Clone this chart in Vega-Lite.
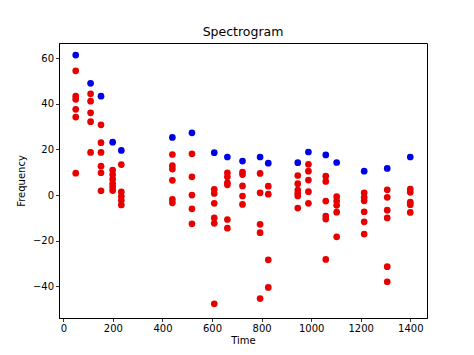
{
  "$schema": "https://vega.github.io/schema/vega-lite/v6.json",
  "width": 368,
  "height": 275,
  "autosize": {"type": "none"},
  "padding": {"left": 59, "top": 43, "right": 47, "bottom": 37},
  "background": "white",
  "title": {"text": "Spectrogram", "font": "DejaVu Sans", "fontSize": 12.5, "fontWeight": "normal", "color": "black", "offset": 5, "anchor": "middle"},
  "config": {
    "view": {"stroke": "black", "strokeWidth": 1},
    "axis": {
      "grid": false,
      "domainColor": "black",
      "domainWidth": 1,
      "tickColor": "black",
      "tickSize": 3.5,
      "tickWidth": 0.8,
      "labelFont": "DejaVu Sans",
      "labelFontSize": 10,
      "labelColor": "black",
      "titleFont": "DejaVu Sans",
      "titleFontSize": 10,
      "titleFontWeight": "normal",
      "titleColor": "black"
    }
  },
  "data": {
    "values": [
      {"t": 50, "f": 61.4, "k": "p"}, {"t": 50, "f": 54.5, "k": "o"}, {"t": 50, "f": 43.4, "k": "o"}, {"t": 50, "f": 42, "k": "o"}, {"t": 50, "f": 37.6, "k": "o"}, {"t": 50, "f": 34.2, "k": "o"}, {"t": 50, "f": 9.6, "k": "o"},
      {"t": 110, "f": 49, "k": "p"}, {"t": 110, "f": 44.4, "k": "o"}, {"t": 110, "f": 41.2, "k": "o"}, {"t": 110, "f": 36.1, "k": "o"}, {"t": 110, "f": 32.2, "k": "o"}, {"t": 110, "f": 18.7, "k": "o"},
      {"t": 152, "f": 43.4, "k": "p"}, {"t": 152, "f": 30.8, "k": "o"}, {"t": 152, "f": 23, "k": "o"}, {"t": 152, "f": 18.7, "k": "o"}, {"t": 152, "f": 12.7, "k": "o"}, {"t": 152, "f": 9.8, "k": "o"}, {"t": 152, "f": 1.9, "k": "o"},
      {"t": 199, "f": 23.2, "k": "p"}, {"t": 199, "f": 11, "k": "o"}, {"t": 199, "f": 9, "k": "o"}, {"t": 199, "f": 7, "k": "o"}, {"t": 199, "f": 5, "k": "o"}, {"t": 199, "f": 3.5, "k": "o"}, {"t": 199, "f": 2, "k": "o"},
      {"t": 234, "f": 19.6, "k": "p"}, {"t": 234, "f": 13.4, "k": "o"}, {"t": 234, "f": 1.4, "k": "o"}, {"t": 234, "f": -0.5, "k": "o"}, {"t": 234, "f": -2.3, "k": "o"}, {"t": 234, "f": -4.3, "k": "o"},
      {"t": 440, "f": 25.3, "k": "p"}, {"t": 440, "f": 17.8, "k": "o"}, {"t": 440, "f": 12.9, "k": "o"}, {"t": 440, "f": 11.4, "k": "o"}, {"t": 440, "f": 6.5, "k": "o"}, {"t": 440, "f": -1.9, "k": "o"}, {"t": 440, "f": -3.4, "k": "o"},
      {"t": 519, "f": 27.3, "k": "p"}, {"t": 519, "f": 18.1, "k": "o"}, {"t": 519, "f": 8, "k": "o"}, {"t": 519, "f": 0, "k": "o"}, {"t": 519, "f": -6, "k": "o"}, {"t": 519, "f": -12.6, "k": "o"},
      {"t": 609, "f": 18.6, "k": "p"}, {"t": 609, "f": 2.5, "k": "o"}, {"t": 609, "f": 0.7, "k": "o"}, {"t": 609, "f": -3.6, "k": "o"}, {"t": 609, "f": -10, "k": "o"}, {"t": 609, "f": -12.4, "k": "o"}, {"t": 609, "f": -47.7, "k": "o"},
      {"t": 662, "f": 16.7, "k": "p"}, {"t": 662, "f": 9.8, "k": "o"}, {"t": 662, "f": 8, "k": "o"}, {"t": 662, "f": 5.4, "k": "o"}, {"t": 662, "f": 4.5, "k": "o"}, {"t": 662, "f": -10.7, "k": "o"}, {"t": 662, "f": -14.5, "k": "o"},
      {"t": 723, "f": 14.9, "k": "p"}, {"t": 723, "f": 10.1, "k": "o"}, {"t": 723, "f": 9, "k": "o"}, {"t": 723, "f": 4, "k": "o"}, {"t": 723, "f": -0.4, "k": "o"}, {"t": 723, "f": -4.1, "k": "o"},
      {"t": 794, "f": 16.7, "k": "p"}, {"t": 794, "f": 9.5, "k": "o"}, {"t": 794, "f": 1, "k": "o"}, {"t": 794, "f": -12.8, "k": "o"}, {"t": 794, "f": -16.5, "k": "o"}, {"t": 794, "f": -45.4, "k": "o"},
      {"t": 827, "f": 14, "k": "p"}, {"t": 827, "f": 3.9, "k": "o"}, {"t": 827, "f": 0.4, "k": "o"}, {"t": 827, "f": -28.4, "k": "o"}, {"t": 827, "f": -40.5, "k": "o"},
      {"t": 946, "f": 14.2, "k": "p"}, {"t": 946, "f": 8.6, "k": "o"}, {"t": 946, "f": 5, "k": "o"}, {"t": 946, "f": 2.2, "k": "o"}, {"t": 946, "f": 0.8, "k": "o"}, {"t": 946, "f": -0.4, "k": "o"}, {"t": 946, "f": -5.7, "k": "o"},
      {"t": 989, "f": 18.9, "k": "p"}, {"t": 989, "f": 13.5, "k": "o"}, {"t": 989, "f": 10.5, "k": "o"}, {"t": 989, "f": 6.6, "k": "o"}, {"t": 989, "f": 1.5, "k": "o"}, {"t": 989, "f": -3.6, "k": "o"},
      {"t": 1059, "f": 17.6, "k": "p"}, {"t": 1059, "f": 8.3, "k": "o"}, {"t": 1059, "f": 6, "k": "o"}, {"t": 1059, "f": -2.6, "k": "o"}, {"t": 1059, "f": -9.2, "k": "o"}, {"t": 1059, "f": -10.5, "k": "o"}, {"t": 1059, "f": -28.2, "k": "o"},
      {"t": 1103, "f": 14.3, "k": "p"}, {"t": 1103, "f": -0.7, "k": "o"}, {"t": 1103, "f": -2.6, "k": "o"}, {"t": 1103, "f": -4.5, "k": "o"}, {"t": 1103, "f": -7.5, "k": "o"}, {"t": 1103, "f": -18.3, "k": "o"},
      {"t": 1214, "f": 10.5, "k": "p"}, {"t": 1214, "f": 1, "k": "o"}, {"t": 1214, "f": -1, "k": "o"}, {"t": 1214, "f": -2.5, "k": "o"}, {"t": 1214, "f": -7.3, "k": "o"}, {"t": 1214, "f": -11.7, "k": "o"}, {"t": 1214, "f": -17.1, "k": "o"},
      {"t": 1307, "f": 11.7, "k": "p"}, {"t": 1307, "f": 2.3, "k": "o"}, {"t": 1307, "f": -1, "k": "o"}, {"t": 1307, "f": -6.6, "k": "o"}, {"t": 1307, "f": -10, "k": "o"}, {"t": 1307, "f": -31.4, "k": "o"}, {"t": 1307, "f": -38, "k": "o"},
      {"t": 1400, "f": 16.7, "k": "p"}, {"t": 1400, "f": 2.6, "k": "o"}, {"t": 1400, "f": 1.2, "k": "o"}, {"t": 1400, "f": -3.1, "k": "o"}, {"t": 1400, "f": -4.2, "k": "o"}, {"t": 1400, "f": -7.6, "k": "o"}
    ]
  },
  "mark": {"type": "point", "filled": true, "opacity": 1, "size": 45},
  "encoding": {
    "x": {
      "field": "t", "type": "quantitative", "title": "Time",
      "scale": {"domain": [-17.5, 1467.5], "nice": false, "zero": false},
      "axis": {"values": [0, 200, 400, 600, 800, 1000, 1200, 1400], "format": "d", "labelPadding": 2, "titlePadding": 2, "labelFlush": false}
    },
    "y": {
      "field": "f", "type": "quantitative", "title": "Frequency",
      "scale": {"domain": [-53.9, 66.7], "nice": false, "zero": false},
      "axis": {"values": [-40, -20, 0, 20, 40, 60], "format": "d", "labelPadding": 2, "titlePadding": 6, "labelFlush": false}
    },
    "color": {
      "field": "k", "type": "nominal",
      "scale": {"domain": ["p", "o"], "range": ["#0000e6", "#e60000"]},
      "legend": null
    },
    "order": {"field": "k", "type": "nominal", "sort": "ascending"}
  }
}
